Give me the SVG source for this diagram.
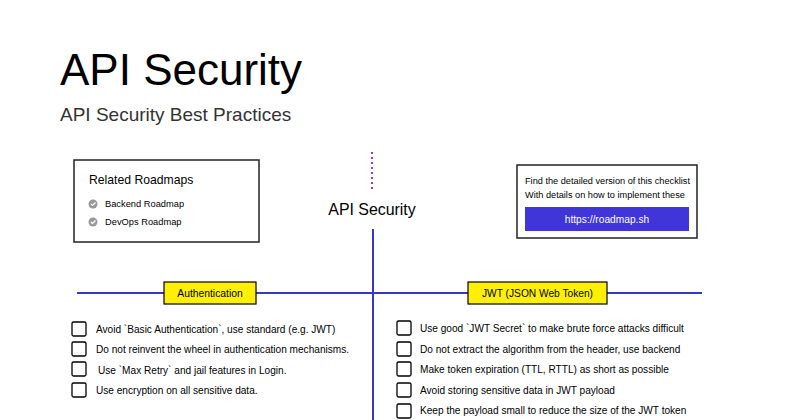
<svg xmlns="http://www.w3.org/2000/svg" width="800" height="420" viewBox="0 0 800 420">
<style>
text{font-family:"Liberation Sans",Arial,sans-serif;fill:#000}
.box{fill:#fff;stroke:#222;stroke-width:1.5}
.sec{fill:#ffef00;stroke:#000;stroke-width:1.2}
.cb{fill:#fff;stroke:#000;stroke-width:1.3}
.it{font-size:10.1px}
.sm{font-size:9.3px}
.ln{stroke:#3b33d1;stroke-width:2;fill:none}
</style>
<rect width="800" height="420" fill="#fff"/>
<text x="60" y="85" font-size="44">API Security</text>
<text x="60" y="121" font-size="19" style="fill:#333">API Security Best Practices</text>

<g id="connectors">
<line x1="372" y1="152" x2="372" y2="192" stroke="#8c3ce0" stroke-width="2" stroke-dasharray="2 3"/>
<line class="ln" x1="373" y1="229" x2="373" y2="420"/>
<line class="ln" x1="77" y1="293" x2="702" y2="293"/>
</g>

<g id="related">
<rect class="box" x="74" y="160" width="185" height="82"/>
<text x="89" y="184" font-size="12.2">Related Roadmaps</text>
<circle cx="93" cy="204" r="4.5" fill="#999"/>
<path d="M91 204l1.5 1.5 3-3" stroke="#fff" stroke-width="1.2" fill="none"/>
<text class="sm" x="105" y="207">Backend Roadmap</text>
<circle cx="93" cy="222" r="4.5" fill="#999"/>
<path d="M91 222l1.5 1.5 3-3" stroke="#fff" stroke-width="1.2" fill="none"/>
<text class="sm" x="105" y="225">DevOps Roadmap</text>
</g>

<g id="root">
<text x="372" y="215" font-size="15.9" text-anchor="middle">API Security</text>
</g>

<g id="info">
<rect class="box" x="517" y="165" width="180" height="73"/>
<text x="525" y="184" font-size="9.2">Find the detailed version of this checklist</text>
<text x="525" y="198" font-size="9.2">With details on how to implement these</text>
<rect x="525" y="207" width="164" height="24" fill="#3f35d9"/>
<text x="607" y="222.5" font-size="10.2" text-anchor="middle" style="fill:#fff">https://roadmap.sh</text>
</g>

<g id="authentication">
<rect class="sec" x="164" y="282" width="92" height="22"/>
<text x="210" y="297" font-size="10.3" text-anchor="middle">Authentication</text>
</g>
<g id="jwt">
<rect class="sec" x="468" y="282" width="139" height="22"/>
<text x="537.5" y="297" font-size="10.2" text-anchor="middle">JWT (JSON Web Token)</text>
</g>

<g id="auth-items">
<rect class="cb" x="72" y="322" width="14" height="14" rx="1.5"/>
<text class="it" x="96" y="333">Avoid `Basic Authentication`, use standard (e.g. JWT)</text>
<rect class="cb" x="72" y="342" width="14" height="14" rx="1.5"/>
<text class="it" x="96" y="353">Do not reinvent the wheel in authentication mechanisms.</text>
<rect class="cb" x="72" y="362" width="14" height="14" rx="1.5"/>
<text class="it" x="98" y="374">Use `Max Retry` and jail features in Login.</text>
<rect class="cb" x="72" y="383" width="14" height="14" rx="1.5"/>
<text class="it" x="96" y="394">Use encryption on all sensitive data.</text>
</g>

<g id="jwt-items">
<rect class="cb" x="397" y="321" width="14" height="14" rx="1.5"/>
<text class="it" x="420" y="332">Use good `JWT Secret` to make brute force attacks difficult</text>
<rect class="cb" x="397" y="342" width="14" height="14" rx="1.5"/>
<text class="it" x="420" y="353">Do not extract the algorithm from the header, use backend</text>
<rect class="cb" x="397" y="362" width="14" height="14" rx="1.5"/>
<text class="it" x="420" y="373">Make token expiration (TTL, RTTL) as short as possible</text>
<rect class="cb" x="397" y="383" width="14" height="14" rx="1.5"/>
<text class="it" x="420" y="394">Avoid storing sensitive data in JWT payload</text>
<rect class="cb" x="397" y="404" width="14" height="14" rx="1.5"/>
<text class="it" x="420" y="414">Keep the payload small to reduce the size of the JWT token</text>
</g>
</svg>
